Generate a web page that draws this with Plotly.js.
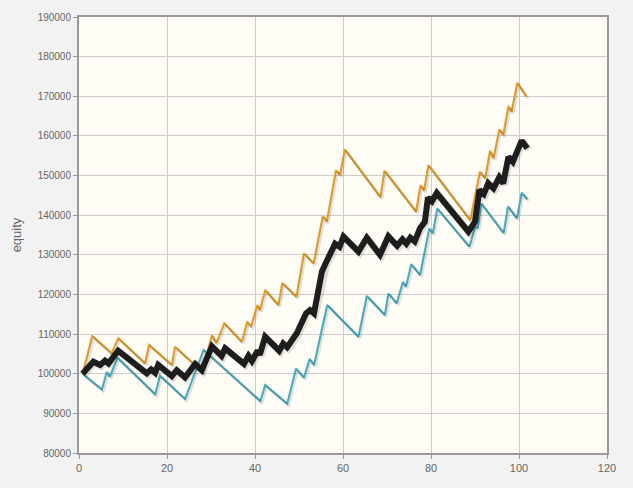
<!DOCTYPE html>
<html>
<head>
<meta charset="utf-8">
<script src="https://cdn.plot.ly/plotly-3.0.1.min.js"></script>
<style>
  html, body { margin: 0; padding: 0; background: #f2f2f2; }
  #chart { width: 633px; height: 488px; }
</style>
</head>
<body>
<div id="chart"></div>
<script>
// ---------- DATA (vertices) ----------
const equityX = [0.8, 3.25, 4.8, 5.9, 6.7, 8.9, 15.4, 16.4, 17.3, 18.0, 21.1, 22.2, 24.1, 26.4, 27.9,
  30.2, 32.4, 33.2, 37.5, 38.5, 39.3, 40.6, 41.1, 42.3, 45.5, 46.4, 47.3, 49.5, 51.6, 52.5,
  53.4, 54.0, 55.2, 55.9, 58.2, 59.2, 60.1, 63.5, 65.4, 68.4, 70.3, 72.3, 73.5, 74.4, 75.3,
  76.3, 77.5, 78.6, 79.3, 80.2, 81.3, 88.5, 90.0, 91.0, 92.0, 93.0, 94.2, 95.5, 96.4, 97.6,
  98.6, 100.6, 101.9];
const equityY = [100000, 103030, 102200, 103280, 102600, 105800, 100100, 101100, 100260, 102200,
  99400, 100900, 99100, 102450, 100900, 106900, 104500, 106400, 102500, 104500, 103200, 105800,
  104800, 109330, 105800, 107600, 106700, 110200, 115240, 116070, 115240, 118600, 125740, 127500,
  132800, 132040, 134600, 130800, 134300, 130000, 134650, 132300, 133900, 132800, 134300, 133400,
  136700, 138350, 144400, 143500, 145600, 135830, 138350, 146350, 145340, 148040, 146770, 149550,
  148040, 154750, 153490, 158790, 156870];

const upperX = [0.8, 3.0, 7.4, 8.9, 15.0, 15.9, 21.1, 21.8, 28.0, 30.2, 31.2, 33.0, 37.0, 38.2, 39.1,
  40.5, 41.1, 42.3, 45.3, 46.2, 49.4, 51.1, 53.3, 55.4, 56.3, 58.4, 59.3, 60.4, 68.5, 69.4,
  76.6, 77.6, 78.4, 79.4, 88.9, 91.1, 92.3, 93.4, 94.2, 95.5, 96.4, 97.6, 98.3, 99.6, 101.7];
const upperY = [100000, 109500, 105150, 108940, 102630, 107250, 102200, 106820, 100500, 109770,
  107750, 112720, 108080, 113000, 112000, 117340, 116000, 121120, 117340, 122900, 119430, 130380,
  127850, 139790, 138350, 151390, 150130, 156610, 144580, 151220, 140870, 147610, 146200, 152650,
  138780, 150970, 149290, 156260, 154330, 161660, 160220, 167540, 166100, 173420, 169890];

const lowerX = [0.8, 5.2, 6.3, 7.0, 8.75, 17.3, 18.4, 24.1, 28.3, 41.2, 42.3, 47.3, 49.3, 51.1, 52.4,
  53.4, 56.4, 63.5, 65.4, 69.5, 70.3, 72.2, 73.6, 74.3, 75.5, 77.5, 79.6, 80.4, 81.4, 88.7,
  90.1, 90.6, 91.4, 96.5, 97.5, 99.5, 100.6, 101.9];
const lowerY = [100000, 96000, 100510, 99250, 104000, 94800, 99500, 93650, 106000, 93100, 97150,
  92450, 101300, 99000, 103750, 102200, 117340, 109330, 119610, 114810, 120280, 117760, 123210,
  121960, 127680, 124900, 136680, 135420, 141700, 132040, 137300, 136700, 143000, 135500, 142200,
  139200, 145660, 144000];

const xRange = [0, 120];
const yRange = [80000, 190000];

// ---------- TRACES ----------
// shadows are the same data on a hidden overlay axis pair nudged a couple of pixels
const pxX = (xRange[1] - xRange[0]) / 528;
const pxY = (yRange[1] - yRange[0]) / 436;
function shadow(x, y, w) {
  return {
    x: x, y: y, xaxis: 'x2', yaxis: 'y2', type: 'scatter', mode: 'lines',
    line: { color: 'rgba(0,0,0,0.12)', width: w + 1, shape: 'linear' },
    hoverinfo: 'skip', showlegend: false
  };
}
function series(x, y, color, w) {
  return {
    x: x, y: y, type: 'scatter', mode: 'lines',
    line: { color: color, width: w },
    hoverinfo: 'skip', showlegend: false
  };
}

const traces = [
  shadow(lowerX, lowerY, 2),
  shadow(upperX, upperY, 2),
  shadow(equityX, equityY, 6),
  series(lowerX, lowerY, '#4bb2c5', 2),
  series(upperX, upperY, '#eaa228', 2),
  series(equityX, equityY, '#222222', 6)
];

const tickFont = { family: 'Liberation Sans, Arial, sans-serif', size: 11, color: '#666666' };

const layout = {
  width: 633, height: 488,
  margin: { l: 79, r: 26, t: 17, b: 35 },
  paper_bgcolor: '#f2f2f2',
  plot_bgcolor: '#fffdf6',
  xaxis: {
    range: xRange, dtick: 20, tick0: 0,
    showgrid: true, gridcolor: '#cccccc', gridwidth: 1,
    zeroline: false,
    showline: true, linecolor: '#999999', linewidth: 2, mirror: true,
    ticks: 'outside', ticklen: 4, tickcolor: '#999999',
    tickfont: tickFont
  },
  yaxis: {
    range: yRange, dtick: 10000, tick0: 80000, tickformat: 'd',
    showgrid: true, gridcolor: '#cccccc', gridwidth: 1,
    zeroline: false,
    showline: true, linecolor: '#999999', linewidth: 2, mirror: true,
    ticks: 'outside', ticklen: 4, tickcolor: '#999999',
    tickfont: { family: tickFont.family, size: 10, color: '#666666' },
    title: { text: 'equity', font: { family: tickFont.family, size: 13, color: '#666666' }, standoff: 13 }
  },
  xaxis2: {
    overlaying: 'x', range: [xRange[0] - 1.5 * pxX, xRange[1] - 1.5 * pxX],
    visible: false, showgrid: false, zeroline: false
  },
  yaxis2: {
    overlaying: 'y', range: [yRange[0] + 1.5 * pxY, yRange[1] + 1.5 * pxY],
    visible: false, showgrid: false, zeroline: false
  }
};

Plotly.newPlot('chart', traces, layout, { displayModeBar: false, staticPlot: true });
</script>
</body>
</html>
